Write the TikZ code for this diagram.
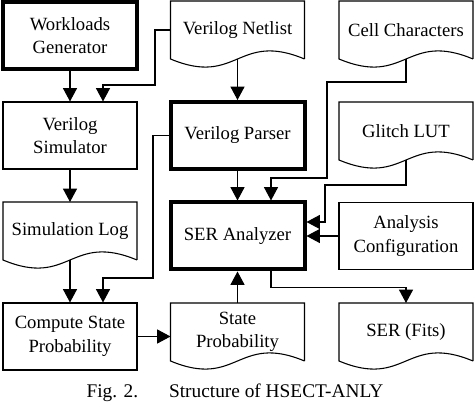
\documentclass[tikz,border=0pt]{standalone}
\usepackage{fontspec}
\setmainfont{Liberation Serif}
\usetikzlibrary{arrows.meta,calc}

\begin{document}
\begin{tikzpicture}[x=0.75pt, y=-0.75pt,
  every node/.style={font=\fontsize{14}{17.5}\selectfont, align=center},
  box/.style={draw, line width=0.8pt, minimum width=100.5pt, minimum height=50.25pt},
  mainbox/.style={box, line width=3pt},
  doc/.style={minimum width=100.5pt, minimum height=43.5pt, outer sep=0pt},
  link/.style={line width=0.8pt, -{Triangle[width=10.5pt,length=10pt]}}]
\useasboundingbox (0,0) rectangle (474,402);
\node[mainbox] (gen) at (70,35.5) {Workloads\\Generator};
\node[doc] (netlist) at (237.5,30) {Verilog Netlist};
\node[doc] (cell) at (406,30) {Cell Characters};
\node[box] (sim) at (70,135.5) {Verilog\\Simulator};
\node[mainbox] (parser) at (237.5,135.5) {Verilog Parser};
\node[doc] (glitch) at (406,131) {Glitch LUT};
\node[doc] (log) at (70,231) {Simulation Log};
\node[mainbox] (ser) at (237.5,236) {SER Analyzer};
\node[box] (config) at (406,236) {Analysis\\Configuration};
\node[box] (compute) at (70,336.5) {Compute State\\Probability};
\node[doc] (state) at (237.5,332) {State\\Probability};
\node[doc] (fits) at (406,332) {SER (Fits)};
\foreach \nd in {netlist,cell,glitch,log,state,fits}
  \draw[line width=0.8pt] (\nd.south east) -- (\nd.north east) -- (\nd.north west) -- (\nd.south west)
    .. controls ($(\nd.south)+(0,28)$) and ($(\nd.south)+(0,-28)$) .. (\nd.south east);
\draw[link] (gen) -- (sim);
\draw[link] (netlist.west) -| (155,85) -| ($(sim.north)+(33,0)$);
\draw[link] (netlist) -- (parser);
\draw[link] (sim) -- (log);
\draw[link] (parser.west) -| (153,278) -| ($(compute.north)+(33,0)$);
\draw[link] (log) -- (compute);
\draw[link] (parser) -- (ser);
\draw[link] (cell.south) -- ++(0,23) -| (327,178) -| ($(ser.north)+(33.5,0)$);
\draw[link] (glitch.south) |- (325,185) |- ($(ser.east)+(0,-14)$);
\draw[link] (config) -- (ser);
\draw[link] ($(ser.south)+(33.5,0)$) -- ++(0,16) -| (fits.north);
\draw[link] (state) -- (ser);
\draw[link] (compute.east) -- (compute.east -| state.west);
\node[anchor=base, font=\fontsize{14.5}{17}\selectfont] (caption) at (235,397) {Fig. 2.\hspace{1.6em}Structure of HSECT-ANLY};
\end{tikzpicture}
\end{document}
